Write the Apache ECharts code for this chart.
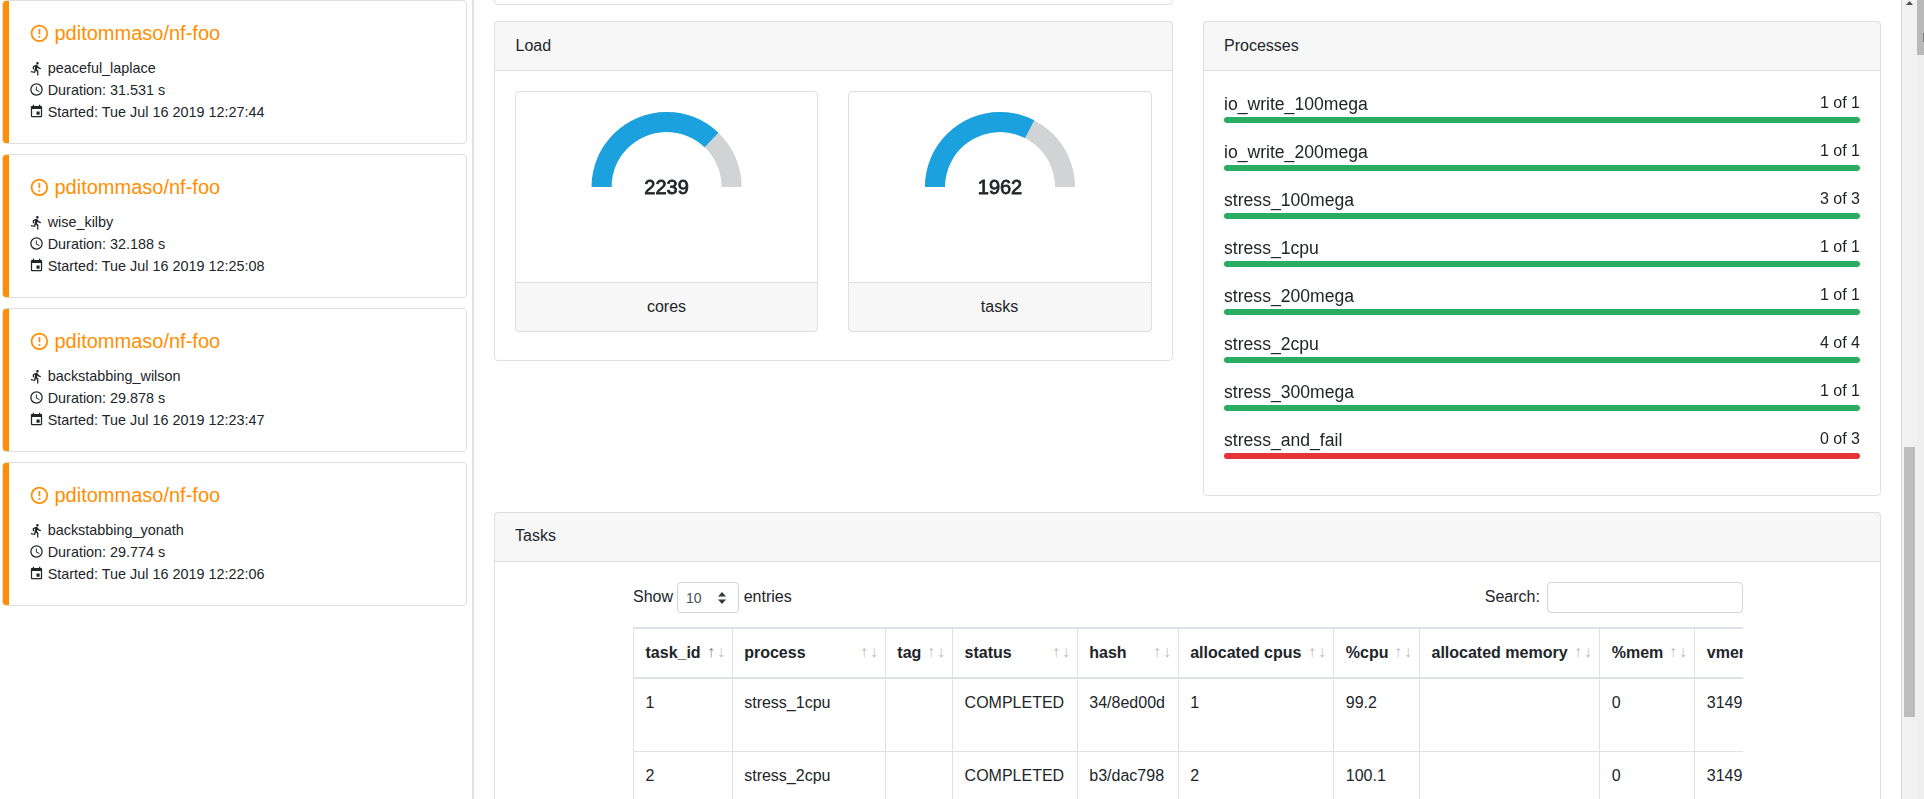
<!DOCTYPE html>
<html>
<head>
<meta charset="utf-8">
<title>Nextflow dashboard</title>
<script src="https://cdn.jsdelivr.net/npm/echarts@6/dist/echarts.min.js"></script>
<style>
html,body{margin:0;padding:0;width:1924px;height:799px;overflow:hidden;background:#fff;font-family:"Liberation Sans",Arial,sans-serif;color:#212529}
#page,#chart{position:absolute;left:0;top:0;width:1924px;height:799px;overflow:hidden}
#chart{z-index:5}
.box{position:absolute;box-sizing:border-box}
.card{border:1px solid #dfdfdf;border-radius:4px;background:#fff}
.head{background:#f7f7f7;border:1px solid #dfdfdf}
.t{position:absolute;white-space:nowrap;height:24px;line-height:24px}
svg.i{position:absolute}
</style>
</head>
<body>
<div id="page"></div>
<div id="chart"></div>
<script>
// ---- data ----
const runNames = ['peaceful_laplace', 'wise_kilby', 'backstabbing_wilson', 'backstabbing_yonath'];
const runDurations = ['31.531 s', '32.188 s', '29.878 s', '29.774 s'];
const runStarted = ['Tue Jul 16 2019 12:27:44', 'Tue Jul 16 2019 12:25:08', 'Tue Jul 16 2019 12:23:47', 'Tue Jul 16 2019 12:22:06'];
const runTitle = 'pditommaso/nf-foo';

const loadLabels = ['cores', 'tasks'];
const loadValues = [2239, 1962];
const loadMax = 3015; // estimated from the arc angles

const processNames = ['io_write_100mega', 'io_write_200mega', 'stress_100mega', 'stress_1cpu', 'stress_200mega', 'stress_2cpu', 'stress_300mega', 'stress_and_fail'];
const processDone = [1, 1, 3, 1, 1, 4, 1, 0];
const processFailed = [0, 0, 0, 0, 0, 0, 0, 3];
const processTotal = [1, 1, 3, 1, 1, 4, 1, 3];

const tableColumns = ['task_id', 'process', 'tag', 'status', 'hash', 'allocated cpus', '%cpu', 'allocated memory', '%mem', 'vmem'];
const tableRow1 = ['1', 'stress_1cpu', '', 'COMPLETED', '34/8ed00d', '1', '99.2', '', '0', '3149'];
const tableRow2 = ['2', 'stress_2cpu', '', 'COMPLETED', 'b3/dac798', '2', '100.1', '', '0', '3149'];

// ---- page chrome ----
const page = document.getElementById('page');
function box(x, y, w, h, cls, style) {
  const d = document.createElement('div');
  d.className = 'box ' + (cls || '');
  d.style.cssText = `left:${x}px;top:${y}px;width:${w}px;height:${h}px;` + (style || '');
  page.appendChild(d);
  return d;
}
function text(x, cy, s, style, parent) {
  const d = document.createElement('div');
  d.className = 't';
  d.textContent = s;
  d.style.cssText = `left:${x}px;top:${cy - 12}px;` + (style || '');
  (parent || page).appendChild(d);
  return d;
}
function icon(path, x, y, size, color) {
  page.insertAdjacentHTML('beforeend', `<svg class="i" style="left:${x}px;top:${y}px" width="${size}" height="${size}" viewBox="0 0 24 24"><path fill="${color}" d="${path}"/></svg>`);
}
const P_ALERT = 'M11,15H13V17H11V15M11,7H13V13H11V7M12,2C6.47,2 2,6.5 2,12A10,10 0 0,0 12,22A10,10 0 0,0 22,12A10,10 0 0,0 12,2M12,20A8,8 0 0,1 4,12A8,8 0 0,1 12,4A8,8 0 0,1 20,12A8,8 0 0,1 12,20Z';
const P_CLOCK = 'M12,20A8,8 0 0,0 20,12A8,8 0 0,0 12,4A8,8 0 0,0 4,12A8,8 0 0,0 12,20M12,2A10,10 0 0,1 22,12A10,10 0 0,1 12,22C6.47,22 2,17.5 2,12A10,10 0 0,1 12,2M12.5,7V12.25L17,14.92L16.25,16.15L11,13V7H12.5Z';
const P_CAL = 'M19,19H5V8H19M16,1V3H8V1H6V3H5C3.89,3 3,3.89 3,5V19A2,2 0 0,0 5,21H19A2,2 0 0,0 21,19V5C21,3.89 20.1,3 19,3H18V1M17,12H12V17H17V12Z';
const P_RUN = 'M13.5,5.5C14.59,5.5 15.5,4.58 15.5,3.5C15.5,2.38 14.59,1.5 13.5,1.5C12.39,1.5 11.5,2.38 11.5,3.5C11.5,4.58 12.39,5.5 13.5,5.5M9.89,19.38L10.89,15L13,17V23H15V15.5L12.89,13.5L13.5,10.5C14.79,12 16.79,13 19,13V11C17.09,11 15.5,10 14.69,8.58L13.69,7C13.29,6.38 12.69,6 12,6C11.69,6 11.5,6.08 11.19,6.08L6,8.28V13H8V9.58L9.79,8.88L8.19,17L3.29,16L2.89,18L9.89,19.38Z';

// sidebar
box(472, 0, 2, 799, '', 'background:#dfe1e5');
runNames.forEach((name, i) => {
  const top = i * 154;
  const c = box(2, top, 465, 144, 'card', 'overflow:hidden');
  const b = document.createElement('div');
  b.style.cssText = 'position:absolute;left:-1px;top:-1px;bottom:-1px;width:7px;background:#ff8f00';
  c.appendChild(b);
  icon(P_ALERT, 28.6, top + 22.6, 20.8, '#ff8f00');
  text(54.5, top + 33, runTitle, 'font-size:20px;color:#ff8f00');
  icon(P_RUN, 29, top + 60.5, 15, '#212529');
  text(47.7, top + 68, name, 'font-size:14.4px');
  icon(P_CLOCK, 29, top + 82, 15, '#212529');
  text(47.7, top + 90, 'Duration: ' + runDurations[i], 'font-size:14.4px');
  icon(P_CAL, 29, top + 104, 15, '#212529');
  text(47.7, top + 112, 'Started: ' + runStarted[i], 'font-size:14.4px');
});

// previous card's bottom edge
box(493.5, -10, 679.5, 15, 'card');

// Load card
box(493.5, 21, 679.5, 340, 'card');
box(493.5, 21, 679.5, 50, 'head', 'border-radius:4px 4px 0 0');
text(515.5, 45.5, 'Load', 'font-size:16px');
const innerX = [515, 847.5], innerW = [303, 304];
loadLabels.forEach((lab, i) => {
  box(innerX[i], 91, innerW[i], 241, 'card');
  box(innerX[i], 282, innerW[i], 50, 'head', 'border-radius:0 0 4px 4px');
  text(innerX[i], 306.5, lab, `font-size:16px;width:${innerW[i]}px;text-align:center`);
});

// Processes card
box(1203, 21, 677.5, 474.5, 'card');
box(1203, 21, 677.5, 50, 'head', 'border-radius:4px 4px 0 0');
text(1224, 45.5, 'Processes', 'font-size:16px');

// Tasks card
box(494, 512, 1386.5, 320, 'card');
box(494, 512, 1386.5, 50, 'head', 'border-radius:4px 4px 0 0');
text(515, 536, 'Tasks', 'font-size:16px');
text(633, 596.5, 'Show', 'font-size:16px');
box(677, 582, 61.7, 31, '', 'border:1px solid #ced4da;border-radius:4px');
text(686, 597.5, '10', 'font-size:14px;color:#495057');
page.insertAdjacentHTML('beforeend', '<svg class="i" style="left:717px;top:591px" width="10" height="14" viewBox="0 0 10 14"><path fill="#343a40" d="M5 1 L9 5.5 H1 Z M5 13 L1 8.5 H9 Z"/></svg>');
text(743.7, 596.5, 'entries', 'font-size:16px');
text(1484.8, 597, 'Search:', 'font-size:16px');
box(1547, 582, 195.7, 31, '', 'border:1px solid #ced4da;border-radius:4px');

// table, clipped on the right like the scrolling original
const clip = box(633, 620, 1743 - 633, 179, '', 'overflow:hidden');
const colX = [633, 732, 885, 952, 1077, 1178, 1333, 1419, 1599, 1694, 1800];
const colText = [645.5, 744.2, 897.3, 964.6, 1089.3, 1190.2, 1345.8, 1431.5, 1611.7, 1706.8];
const CL = '#dee2e6';
function hline(y, h) { const d = box(0, y - 620, 1110, h, '', 'background:' + CL); clip.appendChild(d); }
function vline(x) { const d = box(x - 633, 627 - 620, 1, 180, '', 'background:' + CL); clip.appendChild(d); }
hline(627, 2); hline(677, 2); hline(751, 1);
colX.slice(0, 10).forEach(vline);
tableColumns.forEach((c, i) => {
  text(colText[i] - 633, 652.5 - 620, c, 'font-size:16px;font-weight:bold', clip);
  const right = colX[i + 1] - 633;
  text(right - 25, 651.5 - 620, '\u2191', `font-size:16px;opacity:${i === 0 ? 0.55 : 0.3}`, clip);
  text(right - 15, 651.5 - 620, '\u2193', 'font-size:16px;opacity:.3', clip);
});
[[tableRow1, 703], [tableRow2, 776]].forEach(([row, y]) => {
  row.forEach((v, i) => { if (v !== '') text(colText[i] - 633, y - 620, v, 'font-size:16px', clip); });
});

// browser scrollbars
box(1901, 0, 23, 799, '', 'background:#f1f1f1');
box(1901, 0, 1, 799, '', 'background:#d5d5d5');
box(1917, 0, 7, 799, '', 'background:#efefef');
box(1917, 0, 7, 55, '', 'background:#b9b9b9');
box(1923, 33, 1, 9, '', 'background:#777');
box(1904, 447, 11, 270, '', 'background:#bdbdbd');
page.insertAdjacentHTML('beforeend', '<svg class="i" style="left:1906px;top:1px" width="7" height="4"><path fill="#505050" d="M3.5 0 L7 4 H0 Z"/></svg>');

// ---- ECharts: gauges and progress bars ----
const chart = echarts.init(document.getElementById('chart'), null, { renderer: 'canvas', width: 1924, height: 799 });
const gaugeCenters = [[666.6, 187], [1000, 187]];
const FONT = '"Liberation Sans", Arial, sans-serif';
const gaugeSeries = loadValues.map((v, i) => ({
  type: 'gauge',
  center: gaugeCenters[i],
  radius: 75,
  startAngle: 180,
  endAngle: 0,
  min: 0,
  max: loadMax,
  data: [{ value: v, name: loadLabels[i] }],
  pointer: { show: false },
  axisTick: { show: false },
  splitLine: { show: false },
  axisLabel: { show: false },
  title: { show: false },
  anchor: { show: false },
  progress: { show: true, width: 20, roundCap: false, clip: false, itemStyle: { color: '#1aa1de' } },
  axisLine: { roundCap: false, lineStyle: { width: 20, color: [[1, '#d1d3d4']] } },
  detail: {
    show: true, valueAnimation: false, offsetCenter: [0, 1], fontSize: 20, fontWeight: 'normal',
    fontFamily: FONT, color: '#212529', textBorderColor: '#212529', textBorderWidth: 0.8,
    formatter: '{value}'
  },
  animation: false,
  silent: true
}));
const pct = (arr) => arr.map((v, i) => v / processTotal[i] * 100);
const barBase = { type: 'bar', stack: 'progress', barWidth: 6, silent: true, animation: false, xAxisIndex: 0, yAxisIndex: 0 };
chart.setOption({
  backgroundColor: 'transparent',
  animation: false,
  textStyle: { fontFamily: FONT },
  grid: { left: 1224, top: 96, width: 636, height: 384, containLabel: false },
  xAxis: { type: 'value', min: 0, max: 100, show: false },
  yAxis: [
    {
      type: 'category', inverse: true, data: processNames, position: 'left',
      axisLine: { show: false }, axisTick: { show: false }, splitLine: { show: false },
      axisLabel: { inside: true, margin: 0, interval: 0, align: 'left', verticalAlign: 'bottom', fontSize: 17.6, color: '#212529', padding: [0, 0, 4.5, 0], lineHeight: 21 }
    },
    {
      type: 'category', inverse: true, position: 'right',
      data: processDone.map((v, i) => `${v} of ${processTotal[i]}`),
      axisLine: { show: false }, axisTick: { show: false }, splitLine: { show: false },
      axisLabel: { inside: true, margin: 0, interval: 0, align: 'right', verticalAlign: 'bottom', fontSize: 16, color: '#212529', padding: [0, 0, 5.5, 0], lineHeight: 21 }
    }
  ],
  series: [
    ...gaugeSeries,
    { ...barBase, name: 'completed', data: pct(processDone), itemStyle: { color: '#27ae60', borderRadius: 3 } },
    { ...barBase, name: 'failed', data: pct(processFailed), itemStyle: { color: '#e63439', borderRadius: 3 } }
  ]
});
</script>
</body>
</html>
